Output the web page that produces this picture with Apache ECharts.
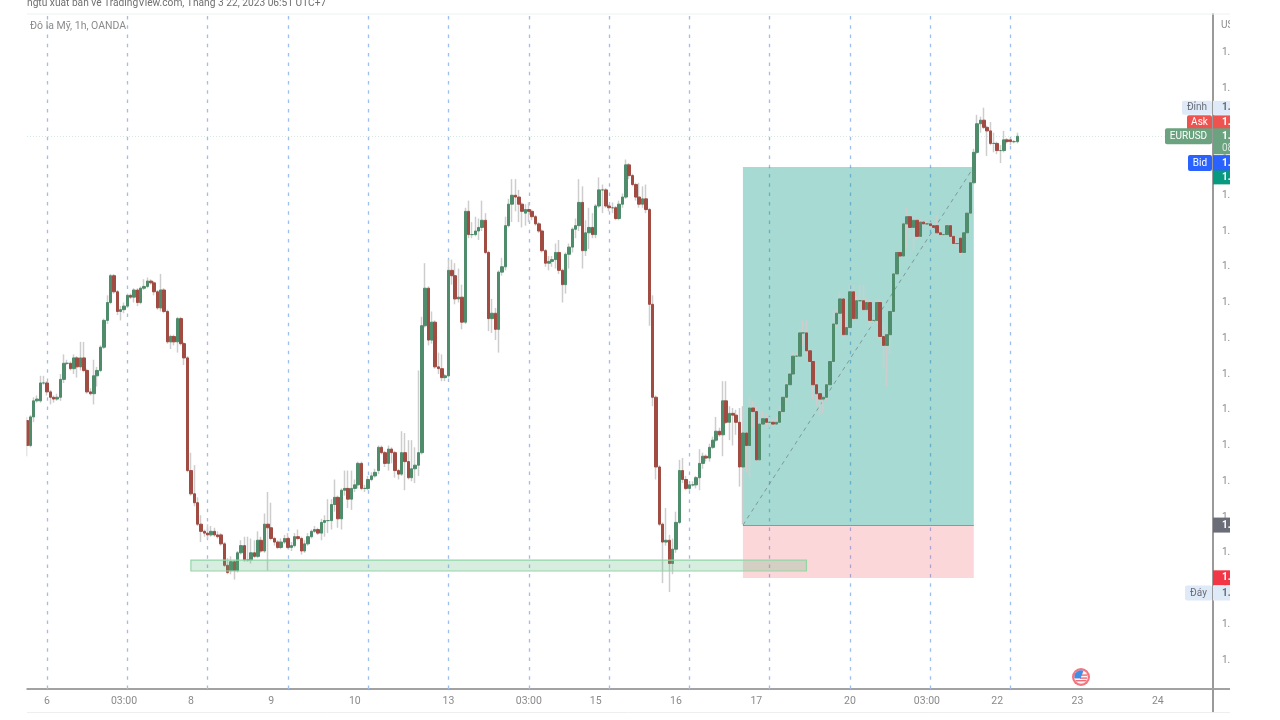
<!DOCTYPE html>
<html lang="vi">
<head>
<meta charset="utf-8">
<title>EURUSD 1h</title>
<style>html,body{margin:0;padding:0;background:#fff}#chart{width:1280px;height:720px}</style>
<script src="https://cdn.jsdelivr.net/npm/echarts@6/dist/echarts.min.js"></script>
</head>
<body>
<div id="chart"></div>
<script>
// Hourly EURUSD candles, prices written in 1/10000 units.
const opens=[10614,10600,10616,10625,10625,10635,10635,10630,10627,10626,10627,10637,10646,10646,10643,10649,10644,10649,10642,10630,10629,10639,10642,10655,10670,10680,10695,10686,10675,10676,10678,10684,10683,10687,10680,10688,10689,10692,10691,10686,10677,10687,10675,10658,10661,10658,10671,10657,10649,
10586,10573,10568,10556,10552,10551,10550,10552,10550,10550,10545,10533,10530,10535,10530,10540,10544,10536,10536,10540,10538,10547,10541,10556,10554,10548,10546,10543,10546,10548,10543,10544,10549,10548,10541,10545,10549,10552,10553,10551,10557,10558,10558,10567,10571,10559,10575,10576,10570,10576,10578,
10590,10576,10576,10581,10583,10586,10599,10596,10590,10598,10596,10586,10584,10596,10591,10582,10587,10589,10596,10667,10688,10659,10669,10644,10643,10638,10639,10698,10695,10682,10683,10669,10731,10718,10718,10720,10722,10726,10708,10671,10674,10665,10697,10700,10723,10735,10740,10739,10735,10730,
10732,10731,10728,10724,10720,10709,10702,10703,10704,10708,10698,10690,10707,10711,10721,10723,10736,10709,10719,10722,10718,10734,10743,10743,10734,10733,10733,10727,10735,10739,10757,10751,10746,10739,10735,10738,10732,10679,10627,10588,10556,10546,10547,10534,10542,10557,10586,10581,10576,10578,
10578,10582,10590,10594,10593,10599,10603,10608,10606,10625,10613,10618,10617,10613,10588,10607,10600,10621,10619,10592,10612,10615,10613,10613,10612,10613,10619,10627,10634,10640,10650,10650,10663,10663,10653,10647,10634,10629,10626,10627,10634,10647,10668,10674,10682,10662,10666,10686,10671,10681,
10681,10676,10680,10670,10670,10680,10661,10656,10662,10675,10696,10708,10706,10724,10728,10722,10726,10717,10725,10724,10724,10723,10723,10719,10718,10718,10723,10717,10713,10716,10708,10719,10730,10747,10764,10780,10782,10778,10776,10769,10769,10765,10765,10771,10771,10770,10770];
const closes=[10600,10616,10625,10626,10635,10635,10630,10627,10626,10627,10637,10646,10646,10643,10649,10644,10649,10642,10630,10629,10639,10642,10655,10670,10680,10695,10686,10675,10676,10678,10684,10683,10687,10680,10688,10689,10692,10691,10686,10677,10687,10675,10658,10661,10658,10671,10657,10649,10586,
10573,10568,10556,10552,10551,10550,10552,10550,10549,10545,10533,10529,10535,10530,10540,10544,10536,10536,10540,10538,10547,10541,10556,10554,10548,10546,10543,10546,10548,10543,10544,10549,10548,10541,10545,10549,10552,10553,10551,10557,10558,10558,10567,10571,10559,10575,10576,10570,10576,10578,10590,
10576,10576,10581,10583,10585,10599,10596,10590,10598,10596,10586,10584,10596,10591,10582,10587,10589,10596,10667,10688,10659,10669,10644,10643,10638,10639,10698,10695,10682,10683,10669,10731,10718,10718,10720,10722,10726,10708,10671,10674,10665,10697,10700,10723,10735,10740,10739,10735,10731,10732,
10731,10728,10724,10720,10709,10702,10703,10704,10708,10698,10690,10707,10711,10721,10723,10736,10709,10719,10722,10718,10734,10743,10743,10734,10733,10733,10727,10735,10739,10757,10751,10746,10739,10735,10738,10732,10679,10627,10588,10556,10546,10547,10534,10542,10557,10586,10581,10576,10578,10578,
10582,10590,10594,10593,10599,10603,10608,10606,10625,10613,10618,10617,10613,10588,10607,10600,10621,10619,10592,10612,10615,10613,10613,10612,10613,10619,10627,10634,10640,10650,10650,10663,10663,10653,10647,10634,10629,10626,10627,10634,10647,10668,10674,10682,10662,10666,10686,10671,10681,10681,
10676,10680,10670,10670,10680,10661,10656,10662,10675,10696,10708,10706,10724,10728,10722,10726,10717,10725,10724,10724,10723,10722,10719,10718,10718,10723,10717,10713,10713,10708,10719,10730,10747,10764,10780,10782,10778,10776,10769,10769,10765,10765,10771,10770,10770,10770,10773];
const lows=[10594,10599,10613,10624,10624,10634,10628,10623,10624,10625,10625,10635,10645,10642,10640,10638,10642,10641,10629,10628,10623,10633,10641,10654,10668,10679,10685,10673,10670,10674,10677,10682,10680,10678,10679,10687,10688,10690,10684,10676,10675,10674,10657,10654,10656,10652,10656,10645,10585,
10572,10566,10555,10546,10549,10548,10549,10549,10548,10544,10532,10528,10528,10525,10529,10539,10535,10535,10534,10537,10537,10540,10540,10530,10547,10544,10542,10542,10545,10542,10541,10543,10547,10539,10540,10544,10548,10551,10550,10547,10549,10551,10553,10563,10554,10553,10572,10565,10564,10574,10576,
10575,10574,10575,10580,10582,10584,10595,10588,10586,10590,10582,10581,10583,10575,10581,10580,10579,10583,10595,10666,10656,10657,10643,10640,10636,10636,10638,10690,10679,10680,10665,10668,10716,10716,10717,10715,10720,10707,10664,10663,10659,10652,10695,10698,10722,10725,10731,10725,10722,10723,
10725,10726,10723,10719,10708,10700,10698,10700,10699,10696,10680,10685,10699,10708,10716,10720,10699,10706,10710,10716,10716,10733,10730,10733,10731,10730,10726,10726,10733,10738,10749,10745,10737,10733,10733,10730,10667,10622,10581,10555,10523,10544,10518,10528,10540,10556,10579,10575,10575,10577,
10576,10575,10587,10591,10591,10598,10602,10605,10594,10612,10603,10600,10606,10577,10556,10585,10582,10610,10591,10591,10611,10610,10610,10611,10611,10612,10618,10625,10633,10639,10649,10648,10656,10651,10645,10626,10622,10617,10618,10625,10633,10646,10666,10672,10660,10661,10664,10670,10670,10680,
10675,10675,10666,10667,10668,10659,10643,10633,10651,10674,10695,10705,10705,10710,10716,10709,10715,10716,10722,10723,10722,10721,10718,10717,10717,10717,10716,10712,10711,10706,10707,10718,10729,10746,10763,10775,10777,10762,10768,10764,10763,10758,10764,10769,10768,10769,10769];
const highs=[10616,10617,10627,10628,10639,10639,10636,10631,10628,10629,10640,10651,10648,10647,10651,10650,10658,10658,10643,10632,10648,10644,10656,10671,10684,10696,10696,10687,10678,10680,10685,10685,10688,10688,10689,10693,10694,10693,10692,10687,10696,10688,10676,10662,10662,10672,10672,10658,10650,
10596,10589,10571,10561,10553,10556,10555,10554,10552,10551,10546,10537,10538,10536,10541,10547,10549,10549,10548,10547,10552,10549,10562,10574,10568,10549,10547,10548,10550,10551,10546,10551,10553,10549,10547,10551,10553,10555,10554,10559,10561,10570,10570,10581,10572,10576,10586,10586,10586,10581,10591,
10591,10578,10583,10585,10587,10600,10600,10597,10600,10599,10597,10587,10608,10607,10603,10603,10599,10642,10672,10702,10689,10675,10670,10652,10651,10640,10704,10704,10702,10699,10690,10733,10737,10725,10728,10727,10737,10730,10709,10682,10677,10698,10705,10728,10738,10749,10749,10743,10736,10735,
10736,10732,10729,10725,10721,10710,10706,10706,10713,10715,10699,10708,10713,10722,10727,10749,10745,10726,10733,10730,10735,10750,10746,10744,10735,10736,10734,10737,10741,10760,10758,10752,10747,10747,10745,10746,10733,10684,10628,10589,10557,10565,10550,10548,10563,10592,10593,10583,10579,10580,
10583,10598,10596,10595,10601,10605,10616,10610,10636,10636,10622,10621,10620,10621,10622,10608,10627,10625,10622,10620,10619,10618,10616,10615,10616,10622,10628,10636,10643,10652,10652,10665,10670,10670,10654,10648,10635,10632,10628,10636,10648,10676,10676,10686,10683,10667,10690,10690,10684,10690,
10690,10683,10682,10672,10682,10682,10668,10664,10676,10697,10709,10709,10725,10733,10729,10728,10727,10727,10726,10725,10725,10724,10729,10720,10719,10724,10724,10718,10714,10717,10720,10731,10749,10766,10785,10784,10789,10779,10781,10775,10770,10768,10776,10772,10772,10771,10775];

// Time scale: one slot per hour, with free space to the right of the last candle.
const slotCount = 355;
const daySlots = [6,30,54,78,102,126,150,174,198,222,246,270,294];
const timeLabels = ['6','03:00','8','9','10','13','03:00','15','16','17','20','03:00','22','23','24'];
const timeSlots = [6,29,49,73,98,126,150,170,194,218,246,269,290,314,338];

// Price scale.
const priceMin = 1.04638, priceMax = 1.08414;
const priceTicks = [1.048,1.05,1.052,1.054,1.056,1.058,1.06,1.062,1.064,1.066,1.068,1.07,1.072,1.074,1.076,1.078,1.08,1.082];

// Drawings: long position tool and support zone.
const entryPrice = 1.05555, targetPrice = 1.07558, stopPrice = 1.05259;
const positionSlots = [214, 283];
const zoneSlots = [49, 233];
const zonePrices = [1.05298, 1.05359];
const lastPrice = 1.0773;
const lastLineSlots = [0, 340];

// Price scale tags.
const tagNames  = ['Đỉnh','Ask','EURUSD','Bid','', '', '', 'Đáy'];
const tagPrices = [1.07889,1.07805,1.0773,1.0758,1.075,1.05555,1.0526,1.05175];
const tagValues = ['1.','1.','1.','1.','1.','1.','1.','1.'];

const toPrice = v => v / 10000;
const slots = Array.from({length: slotCount}, (_, i) => String(i));
const timeBySlot = {};
timeSlots.forEach((s, i) => { timeBySlot[s] = timeLabels[i]; });

const wickData = opens.map((o, i) => [o, closes[i], lows[i], highs[i]].map(toPrice));
const bodyData = opens.map((o, i) => {
  const c = closes[i];
  return [o, c, Math.min(o, c), Math.max(o, c)].map(toPrice);
});

const GREEN = '#4e8c6b', RED = '#a14c43', WICK = '#cdcdcd';
const TAG_STYLE = [
  {fill:'#dfeaf8', text:'#6a6d78', left:1182, h:14, cellH:14},
  {fill:'#ef5350', text:'#ffffff', left:1187, h:15, cellH:15},
  {fill:'#6ba27f', text:'#ffffff', left:1165, h:16, cellH:16, extra:26},
  {fill:'#2962ff', text:'#ffffff', left:1188, h:16, cellH:16},
  {fill:'#089981', text:'#ffffff', cellH:14},
  {fill:'#6a6d78', text:'#ffffff', cellH:15},
  {fill:'#f23645', text:'#ffffff', cellH:15},
  {fill:'#dfeaf8', text:'#6a6d78', left:1185, h:15, cellH:15}
];

function renderTag(params, api) {
  const i = api.value(0);
  const y = api.coord([0, api.value(1)])[1];
  const st = TAG_STYLE[i];
  const kids = [];
  const font = '10px Roboto, sans-serif';
  if (st.left) {
    kids.push({type:'rect', shape:{x:st.left, y:y-st.h/2, width:1212-st.left, height:st.h, r:2}, style:{fill:st.fill}});
    kids.push({type:'text', style:{x:(st.left+1212)/2, y:y, text:tagNames[i], fill:st.text, font:font, align:'center', verticalAlign:'middle'}});
  }
  const cellTop = y - st.cellH/2;
  const cellH = st.extra || st.cellH;
  kids.push({type:'rect', shape:{x:1213, y:cellTop, width:18, height:cellH}, style:{fill:st.fill}});
  kids.push({type:'text', style:{x:1222, y:y, text:tagValues[i], fill:st.text, font:'bold '+font, align:'left', verticalAlign:'middle'}});
  if (st.extra) {
    kids.push({type:'text', style:{x:1222, y:y+12, text:'08:09', fill:'#d8e8de', font:font, align:'left', verticalAlign:'middle'}});
  }
  return {type:'group', children:kids};
}

const chart = echarts.init(document.getElementById('chart'), null, {renderer:'canvas'});
chart.setOption({
  animation:false,
  backgroundColor:'#ffffff',
  textStyle:{fontFamily:'Roboto, sans-serif'},
  grid:{left:25.3, right:67, top:14, bottom:31, containLabel:false},
  xAxis:{
    type:'category', data:slots, boundaryGap:true,
    axisLine:{lineStyle:{color:'#a2a2a2', width:2}},
    axisTick:{show:false}, splitLine:{show:false},
    axisLabel:{
      color:'#8a8a8a', fontSize:10.5, margin:7, hideOverlap:false,
      interval:(i) => timeBySlot[i] !== undefined,
      formatter:(v, i) => timeBySlot[i] || ''
    }
  },
  yAxis:{
    type:'value', position:'right', min:priceMin, max:priceMax, scale:true,
    axisLine:{show:true, lineStyle:{color:'#9a9a9a', width:2}},
    axisTick:{show:false}, splitLine:{show:false},
    axisLabel:{customValues:priceTicks, color:'#8a8a8a', fontSize:10, margin:9, formatter:() => '1.'}
  },
  series:[
    {
      name:'guides', type:'line', data:[], silent:true, z:1,
      markLine:{
        silent:true, symbol:'none', z:1, animation:false, label:{show:false},
        lineStyle:{color:'#9dbef0', width:1.3, type:[3.5,5.8]},
        data:daySlots.map(s => ({xAxis:String(s)}))
      }
    },
    {
      name:'position', type:'line', data:[], silent:true, z:2,
      markArea:{
        silent:true, z:2, animation:false,
        data:[
          [{xAxis:String(positionSlots[0]), yAxis:entryPrice, itemStyle:{color:'rgba(8,153,129,0.36)'}},
           {xAxis:String(positionSlots[1]), yAxis:targetPrice}],
          [{xAxis:String(positionSlots[0]), yAxis:stopPrice, itemStyle:{color:'rgba(242,54,69,0.2)'}},
           {xAxis:String(positionSlots[1]), yAxis:entryPrice}]
        ]
      },
      markLine:{
        silent:true, symbol:'none', z:2, animation:false, label:{show:false},
        data:[
          [{xAxis:String(positionSlots[0]), yAxis:entryPrice, lineStyle:{color:'#8f979b', width:1, type:'solid'}},
           {xAxis:String(positionSlots[1]), yAxis:entryPrice}],
          [{xAxis:String(positionSlots[0]), yAxis:entryPrice, lineStyle:{color:'rgba(110,125,130,0.7)', width:1, type:[4,4]}},
           {xAxis:String(positionSlots[1]), yAxis:targetPrice}],
          [{xAxis:String(lastLineSlots[0]), yAxis:lastPrice, lineStyle:{color:'#d4e8de', width:1, type:[1,2]}},
           {xAxis:String(lastLineSlots[1]), yAxis:lastPrice}]
        ]
      }
    },
    {
      name:'wicks', type:'candlestick', data:wickData, z:3, silent:true, barWidth:1, clip:true,
      itemStyle:{color:WICK, color0:WICK, borderColor:WICK, borderColor0:WICK, borderWidth:1.5}
    },
    {
      name:'EURUSD', type:'candlestick', data:bodyData, z:4, silent:true, barWidth:3, clip:true,
      itemStyle:{color:GREEN, color0:RED, borderColor:GREEN, borderColor0:RED, borderWidth:1}
    },
    {
      name:'zone', type:'line', data:[], silent:true, z:5,
      markArea:{
        silent:true, z:5, animation:false,
        itemStyle:{color:'rgba(86,178,120,0.24)', borderColor:'#93d6a6', borderWidth:1.2},
        data:[[{xAxis:String(zoneSlots[0]), yAxis:zonePrices[0]}, {xAxis:String(zoneSlots[1]), yAxis:zonePrices[1]}]]
      }
    },
    {
      name:'tags', type:'custom', silent:true, z:8, clip:false,
      data:tagPrices.map((p, i) => [i, p]),
      encode:{x:0, y:1},
      renderItem:renderTag
    }
  ],
  graphic:[
    {type:'line', z:7, shape:{x1:27, y1:14, x2:1230, y2:14}, style:{stroke:'#eef2f1', lineWidth:1}},
    {type:'line', z:7, shape:{x1:1213, y1:689, x2:1230, y2:689}, style:{stroke:'#a2a2a2', lineWidth:2}},
    {type:'line', z:7, shape:{x1:1213, y1:689, x2:1213, y2:712}, style:{stroke:'#9a9a9a', lineWidth:2}},
    {type:'line', z:7, shape:{x1:27, y1:712.5, x2:1230, y2:712.5}, style:{stroke:'#eeeeee', lineWidth:1}},
    {type:'text', z:9, x:27, y:3, style:{text:'ngtu xuất bản về TradingView.com, Tháng 3 22, 2023 06:51 UTC+7', fill:'#6f6f6f', font:'10.2px Roboto, sans-serif', verticalAlign:'middle'}},
    {type:'text', z:9, x:30, y:26, style:{text:'Đô la Mỹ, 1h, OANDA', fill:'#8b8b8b', font:'10.5px Roboto, sans-serif', verticalAlign:'middle'}},
    {type:'text', z:9, x:1221, y:25, style:{text:'USD', fill:'#8a8a8a', font:'10px Roboto, sans-serif', verticalAlign:'middle'}},
    {type:'group', z:9, x:1081, y:677, children:[
      {type:'circle', shape:{r:9}, style:{fill:'#f4747f'}},
      {type:'circle', shape:{r:6.8}, style:{fill:'#fdf3f3'}},
      {type:'rect', shape:{x:-1, y:-2.6, width:7, height:1.4}, style:{fill:'#ef6b75'}},
      {type:'rect', shape:{x:-1, y:0.4, width:7, height:1.4}, style:{fill:'#ef6b75'}},
      {type:'rect', shape:{x:-5.5, y:3, width:11, height:1.4}, style:{fill:'#ef6b75'}},
      {type:'sector', shape:{r:6.8, startAngle:Math.PI*0.95, endAngle:Math.PI*1.62}, style:{fill:'#3f8fe6'}},
      {type:'rect', shape:{x:-6, y:-3.6, width:6, height:5}, style:{fill:'#3f8fe6'}}
    ]},
    {type:'rect', z:20, shape:{x:0, y:0, width:26.5, height:720}, style:{fill:'#ffffff'}},
    {type:'rect', z:20, shape:{x:1230, y:0, width:50, height:720}, style:{fill:'#ffffff'}}
  ]
});
</script>
</body>
</html>
